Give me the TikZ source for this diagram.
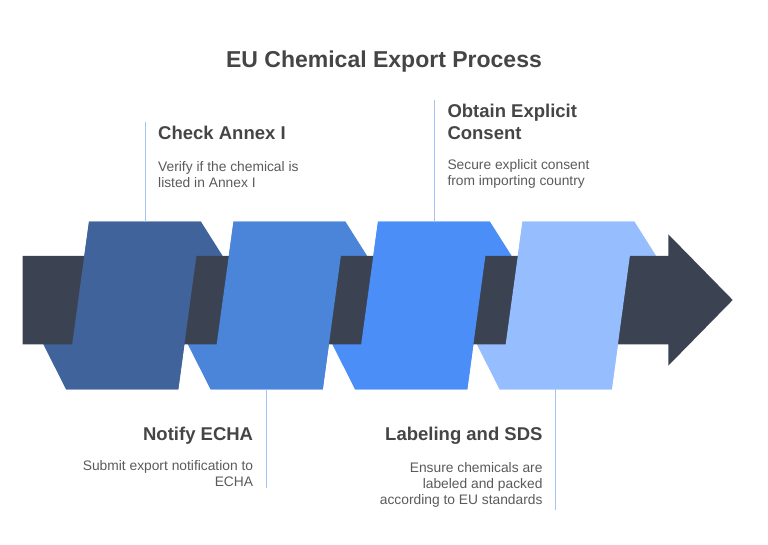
\documentclass[tikz,border=0pt]{standalone}
\usepackage{fontspec}
\setmainfont{Liberation Sans}
\definecolor{bande}{HTML}{3B4353}
\definecolor{bloca}{HTML}{41639B}
\definecolor{blocb}{HTML}{4B85DA}
\definecolor{blocc}{HTML}{4C8EF7}
\definecolor{blocd}{HTML}{96BEFF}
\definecolor{repere}{HTML}{A4C2F4}
\definecolor{gristitre}{HTML}{454545}
\definecolor{gristexte}{HTML}{5A5A5A}

\begin{document}
\begin{tikzpicture}[x=1pt,y=-1pt,
    grandtitre/.style={font=\fontsize{23}{27}\selectfont\bfseries,text=gristitre,inner sep=0},
    etape/.style={font=\fontsize{18.5}{21.7}\selectfont\bfseries,text=gristitre,inner sep=0},
    detail/.style={font=\fontsize{13.8}{16}\selectfont,text=gristexte,inner sep=0},
    repere/.style={draw=repere,line width=1}]
    \useasboundingbox (0,0) rectangle (768,545);
    % titre
    \node[grandtitre,anchor=base] (titre) at (384,67.3) {EU Chemical Export Process};
    % dos des blocs (coins biseautes)
    \foreach\i/\c in {0/bloca,1/blocb,2/blocc,3/blocd}{
        \fill[\c,shift={(\i*144.5,0)}] (89,221.7) -- (201,221.7) -- (222.7,256) -- (184.4,344.3)
            -- (178.3,389.3) -- (66,389.3) -- (43.3,344.3) -- (84.3,256) -- cycle;
    }
    % bande et fleche
    \fill[bande] (22.7,256) -- (668.3,256) -- (668.3,234.3) -- (732.7,300)
        -- (668.3,365.7) -- (668.3,344.3) -- (22.7,344.3) -- cycle;
    % faces des blocs
    \foreach\i/\c in {0/bloca,1/blocb,2/blocc,3/blocd}{
        \fill[\c,shift={(\i*144.5,0)}] (89,221.7) -- (201,221.7) -- (178.3,389.3) -- (66,389.3) -- cycle;
    }
    % reperes
    \coordinate (a1) at (145,221.7);   \coordinate (b1) at (145,122);
    \coordinate (a2) at (266.7,389.3); \coordinate (b2) at (266.7,488);
    \coordinate (a3) at (434.3,221.7); \coordinate (b3) at (434.3,100);
    \coordinate (a4) at (555.7,389.3); \coordinate (b4) at (555.7,510);
    \foreach\i in {1,...,4}{\draw[repere] (a\i) -- (b\i);}
    % textes du haut
    \node[etape,anchor=base west] (h1) at (158,140) {Check Annex I};
    \node[detail,anchor=north west,align=left] (d1) at (158,161.1) {Verify if the chemical is\\listed in Annex I};
    \node[etape,anchor=north west,align=left] (h3) at (447.3,104.2) {Obtain Explicit\\Consent};
    \node[detail,anchor=north west,align=left] (d3) at (447.3,159.1) {Secure explicit consent\\from importing country};
    % textes du bas
    \node[etape,anchor=base east] (h2) at (253.3,440) {Notify ECHA};
    \node[detail,anchor=north east,align=right] (d2) at (253.3,460.1) {Submit export notification to\\ECHA};
    \node[etape,anchor=base east] (h4) at (542.7,440) {Labeling and SDS};
    \node[detail,anchor=north east,align=right] (d4) at (542.7,461.8) {Ensure chemicals are\\labeled and packed\\according to EU standards};
\end{tikzpicture}
\end{document}
